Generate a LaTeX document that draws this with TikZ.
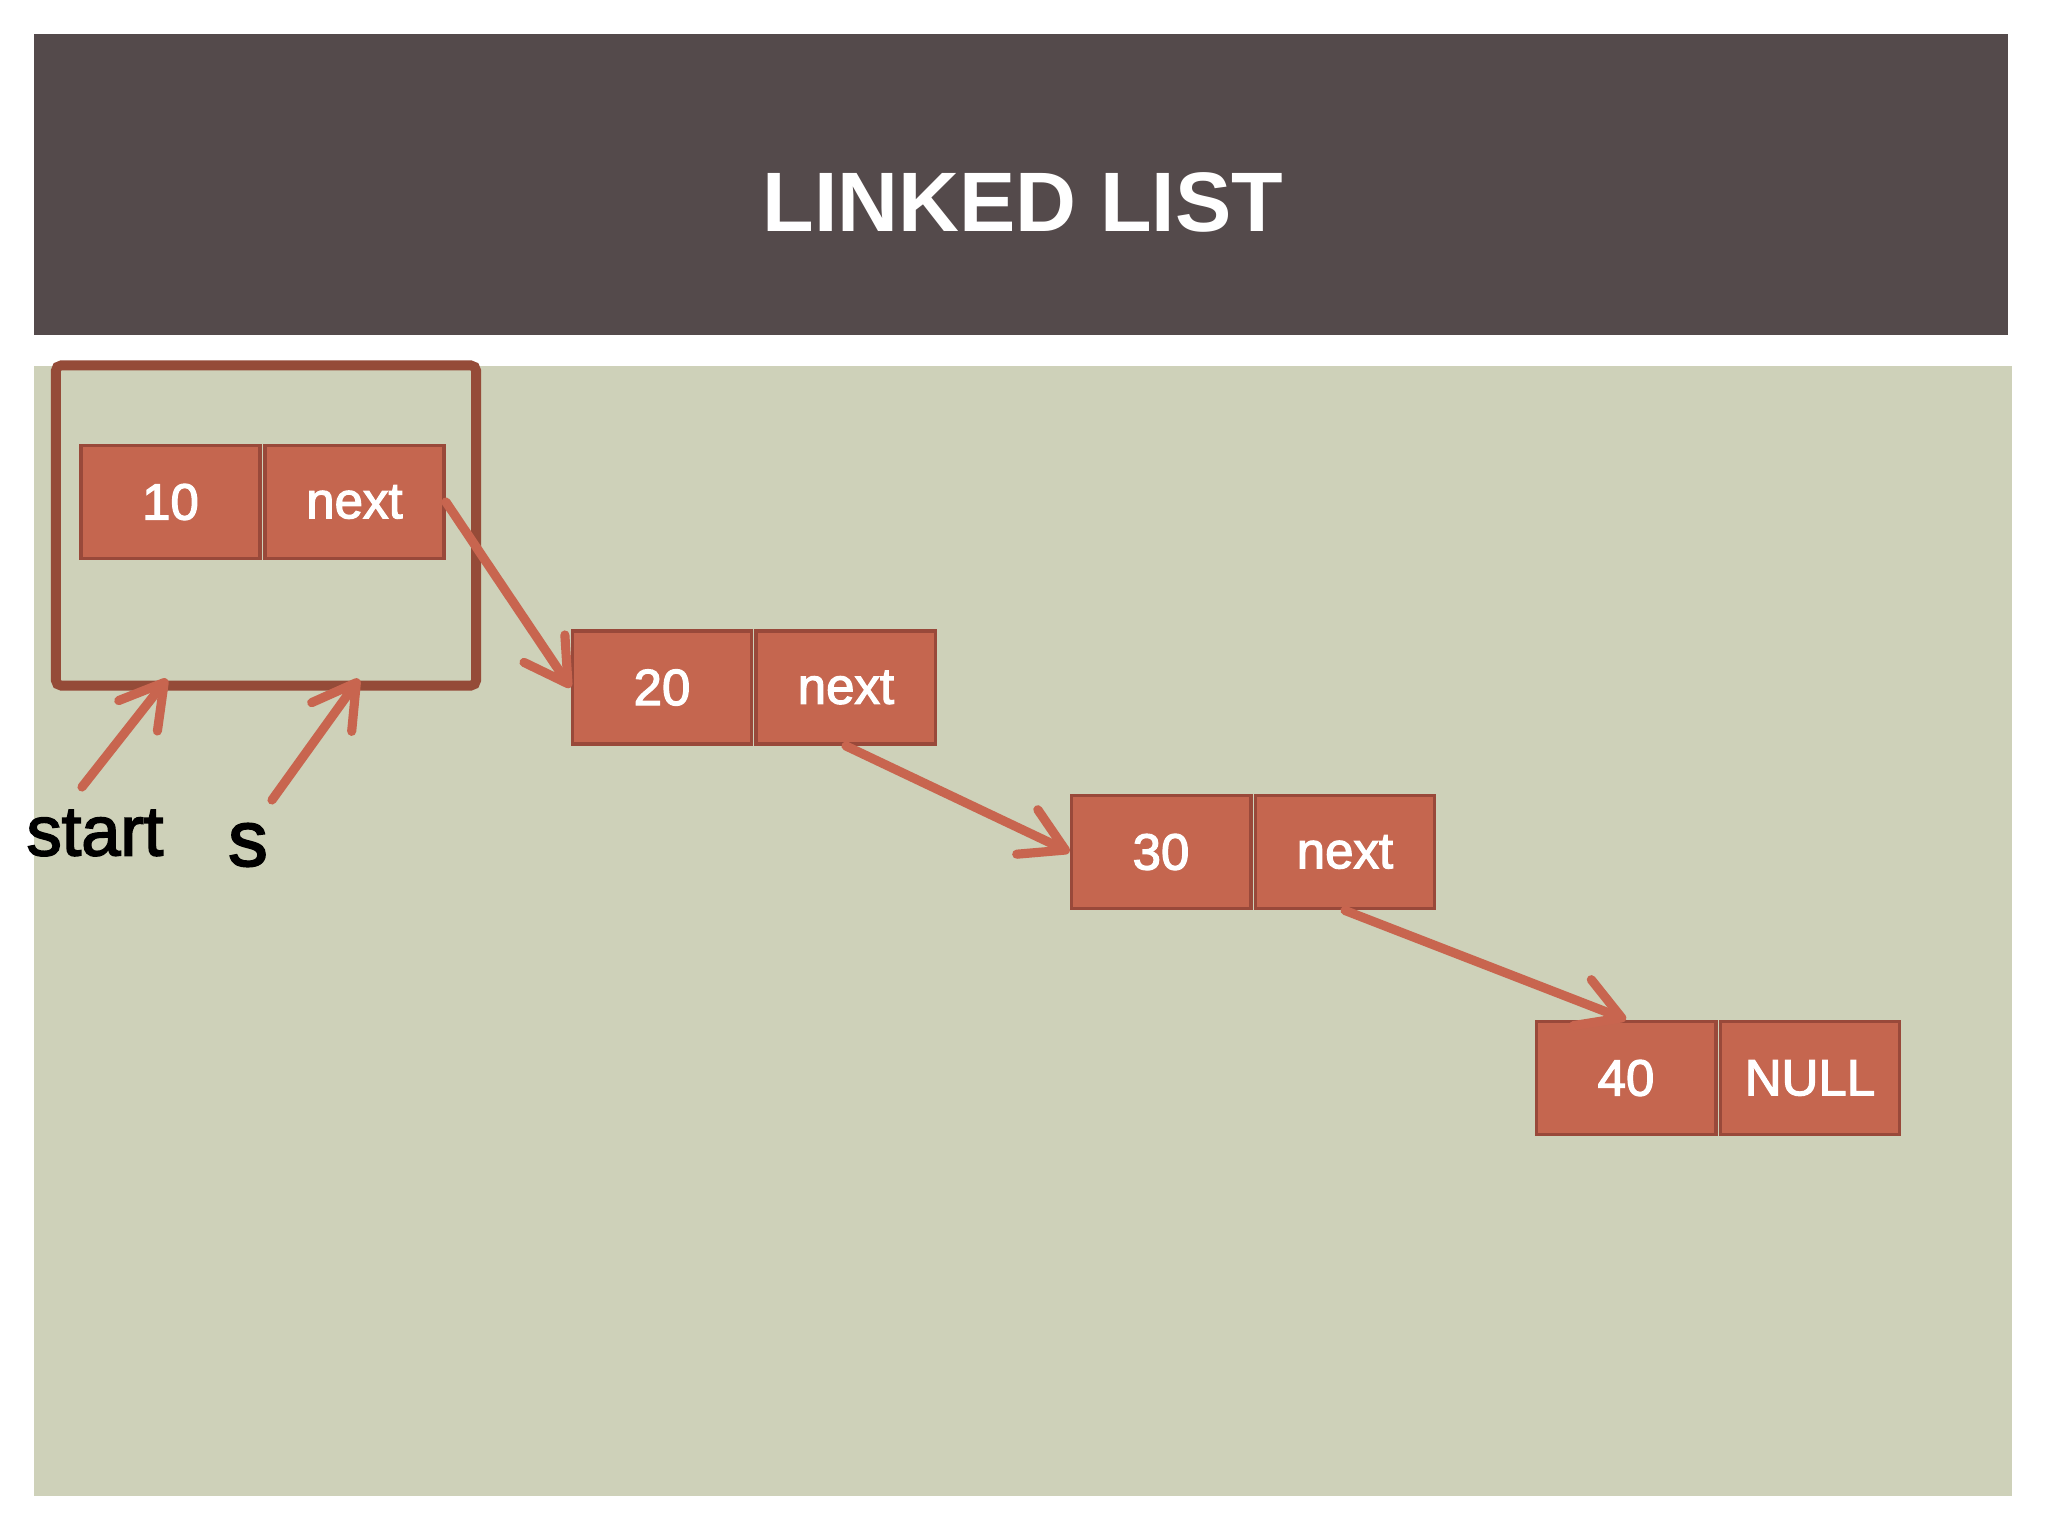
\documentclass[tikz,border=0pt]{standalone}
\usepackage{fontspec}
\setmainfont{Liberation Sans}
\newfontfamily\heavysans{Liberation Sans}[FakeBold=2.4]
\usepackage{tikz}
\usetikzlibrary{positioning,arrows.meta}
\definecolor{barbrown}{HTML}{544A4B}
\definecolor{panelgreen}{HTML}{CED1B9}
\definecolor{cellred}{HTML}{C5664F}
\definecolor{cellrim}{HTML}{99493A}
\definecolor{framered}{HTML}{954B38}
\definecolor{arrowred}{HTML}{C8654F}

\begin{document}
\begin{tikzpicture}[x=0.01cm,y=-0.01cm,
  cell/.style={draw=cellrim,fill=cellred,line width=1.1pt,minimum width=1.79cm,
    minimum height=1.13cm,inner sep=0pt,text=white,font=\heavysans\fontsize{14.5}{17}\selectfont},
  link/.style={draw=arrowred,line width=2.6pt,line cap=round,
    -{Straight Barb[length=12pt,width=14pt,round]}},
  tag/.style={text=black,inner sep=0pt}]
  \useasboundingbox (0,0) rectangle (2048,1536);
  \fill[white] (0,0) rectangle (2048,1536);
  \fill[barbrown] (34,34) rectangle (2008,335);
  \fill[panelgreen] (34,366) rectangle (2012,1496);
  \node[text=white,font=\bfseries\fontsize{24}{29}\selectfont] (title) at (1023,202) {LINKED LIST};

  \node[draw=framered,line width=2.8pt,minimum width=4.2cm,minimum height=3.2cm,
    rounded corners=1.5pt] (frame) at (266,525.5) {};

  \node[cell] (v1) at (170.5,502) {10};
  \node[cell,right=0.01cm of v1] (p1) {next};
  \node[cell] (v2) at (662,687.5) {20};
  \node[cell,right=0.01cm of v2] (p2) {next};
  \node[cell] (v3) at (1161,852) {30};
  \node[cell,right=0.01cm of v3] (p3) {next};
  \node[cell] (v4) at (1626,1078) {40};
  \node[cell,right=0.01cm of v4] (p4) {NULL};

  \node[tag,font=\heavysans\fontsize{20}{24}\selectfont] (start) at (95,833) {start};
  \node[tag,font=\heavysans\fontsize{22.5}{26}\selectfont] (s) at (248,845) {s};
  \coordinate (startTail) at (82,787);
  \coordinate (startTip) at (167,679);
  \coordinate (sTail) at (272,800);
  \coordinate (sTip) at (359,679);

  \draw[link] (p1.east) -- (v2.west);
  \draw[link] (p2.south) -- (v3.west);
  \draw[link] (p3.south) -- (v4.north);
  \draw[link] (startTail) -- (startTip);
  \draw[link] (sTail) -- (sTip);
\end{tikzpicture}
\end{document}
